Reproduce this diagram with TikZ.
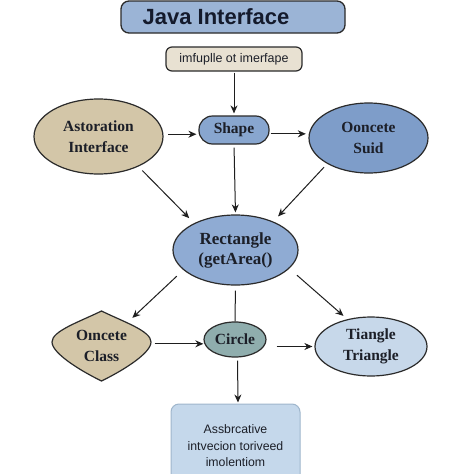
\documentclass[tikz,border=0pt]{standalone}
\usepackage{fontspec}
\setmainfont{Liberation Serif}
\setsansfont{Liberation Sans}
\usetikzlibrary{arrows.meta,shapes.geometric}
\definecolor{bordercol}{HTML}{2B2B2B}
\definecolor{linecol}{HTML}{1E1E1E}
\definecolor{titlefill}{HTML}{9BB4D6}
\definecolor{titletext}{HTML}{141A2C}
\definecolor{subfill}{HTML}{E8E1D2}
\definecolor{tanfill}{HTML}{D3C6A8}
\definecolor{shapefill}{HTML}{88A6CF}
\definecolor{suidfill}{HTML}{7E9DC9}
\definecolor{rectfill}{HTML}{8FABD3}
\definecolor{circfill}{HTML}{8FADAD}
\definecolor{trifill}{HTML}{C7D8EA}
\definecolor{boxfill}{HTML}{C5D8EB}
\definecolor{boxdraw}{HTML}{9FB6CC}
\definecolor{textdark}{HTML}{1C1F28}
\begin{document}
\begin{tikzpicture}[x=1pt,y=-1pt,
  every node/.style={inner sep=0pt},
  shapebase/.style={draw=bordercol,line width=1.2pt,font=\bfseries\fontsize{15.5}{21}\selectfont,align=center,text=textdark},
  ell/.style={shapebase,ellipse},
  lensline/.style={draw=bordercol,line width=1.2pt,fill=tanfill,line join=round},
  titlebox/.style={draw=bordercol,line width=1.3pt,fill=titlefill,rounded corners=8pt,font=\sffamily\bfseries\fontsize{22}{26}\selectfont,text=titletext},
  subbox/.style={draw=bordercol,line width=1.2pt,fill=subfill,rounded corners=6pt,font=\sffamily\fontsize{12.5}{15}\selectfont,text=textdark},
  bottombox/.style={draw=boxdraw,line width=1pt,fill=boxfill,rounded corners=8pt,font=\sffamily\fontsize{12.3}{16.5}\selectfont,align=center,text=textdark},
  arr/.style={draw=linecol,line width=1pt,-{Stealth[length=8pt,width=7pt]}},
  plainline/.style={draw=linecol,line width=1pt},
]
\useasboundingbox (0,0) rectangle (474,474);
\clip (0,0) rectangle (474,474);
\fill[white] (0,0) rectangle (474,474);

\node[titlebox, minimum width=224pt, minimum height=32pt] (title) at (233,17) {\hspace*{-34pt}Java Interface};
\node[subbox, minimum width=136pt, minimum height=24pt] (sub) at (234,59) {imfuplle ot imerfape};
\node[ell, fill=tanfill, minimum width=129pt, minimum height=75pt] (ast) at (98.5,136.5) {Astoration\\Interface};
\node[shapebase, rectangle, fill=shapefill, rounded corners=13.5pt, minimum width=70pt, minimum height=28pt] (shape) at (234,130) {Shape};
\node[ell, fill=suidfill, minimum width=119pt, minimum height=70pt] (suid) at (368.5,138) {Ooncete\\Suid};
\node[ell, fill=rectfill, minimum width=125pt, minimum height=70pt, font=\bfseries\fontsize{17}{20}\selectfont] (rect) at (235.5,250) {Rectangle\\(getArea()};
% lens-shaped outline of the "Class" node
\draw[lensline] (101.5,311) .. controls (124,322) and (151,331) .. (151,342)
  .. controls (151,353) and (124,370) .. (101.5,381)
  .. controls (79,370) and (52,353) .. (52,342)
  .. controls (52,331) and (79,322) .. (101.5,311) -- cycle;
\node[shapebase, diamond, draw=none, shape aspect=1.41, minimum width=99pt, minimum height=70pt] (oc) at (101.5,346) {Oıncete\\Class};
\node[ell, fill=circfill, minimum width=62pt, minimum height=35pt] (circ) at (235,339.5) {Circle};
\node[ell, fill=trifill, minimum width=112pt, minimum height=59pt] (tri) at (371,346.5) {Tiangle\\Triangle};
\node[bottombox, minimum width=129pt, minimum height=84pt] (box) at (235.5,446) {Assbrcative\\intvecion toriveed\\imolentiom};

\draw[arr, shorten <=1pt, shorten >=2pt] (sub) -- (shape);
\draw[arr, shorten <=5pt, shorten >=2pt] (ast.2) -- (ast.2 -| shape.west);
\draw[arr, shorten <=1pt, shorten >=3pt] (shape.east |- suid.176) -- (suid.176);
\draw[arr, shorten <=3pt, shorten >=2pt] (shape.south) -- (rect.north);
\draw[arr, shorten <=5.5pt, shorten >=7pt] (ast.-37.6) -- (rect.147.4);
\draw[arr, shorten <=4.5pt, shorten >=7pt] (suid.212.2) -- (rect.37.5);
\draw[arr, shorten <=9pt, shorten >=12pt] (rect.201) -- (oc.42.6);
\draw[arr, shorten <=10pt, shorten >=5pt] (rect.-19) -- (tri.131.7);
\draw[plainline, shorten <=5pt] (rect.south) -- (circ.north);
\draw[arr, shorten <=3pt, shorten >=1pt] (oc.east |- circ.188) -- (circ.188);
\draw[arr, shorten <=10pt, shorten >=2pt] (tri.west -| circ.east) -- (tri.west);
\draw[arr, shorten <=3pt, shorten >=1pt] ([xshift=2.5pt]circ.south) -- ([xshift=2.5pt]box.north);
\end{tikzpicture}
\end{document}
